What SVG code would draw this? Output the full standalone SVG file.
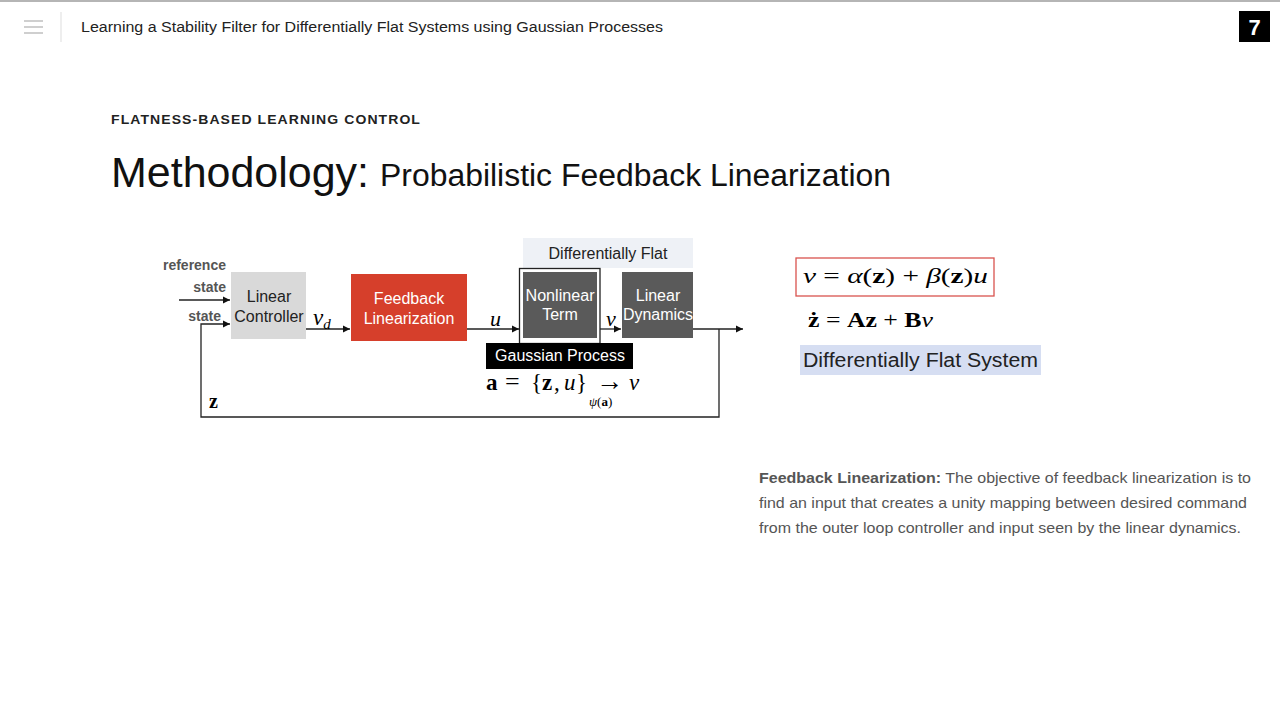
<svg xmlns="http://www.w3.org/2000/svg" width="1280" height="720" viewBox="0 0 1280 720">
<defs>
<marker id="ah" markerWidth="8" markerHeight="8" refX="7" refY="4" orient="auto" markerUnits="userSpaceOnUse">
<path d="M0,0.5 L7,4 L0,7.5 Z" fill="#111"/>
</marker>
<style>
.sans{font-family:"Liberation Sans",Arial,Helvetica,sans-serif}
.math{font-family:"Liberation Serif","Times New Roman",serif}
.lbl{font-family:"Liberation Sans",Arial,sans-serif;font-size:14px;font-weight:bold;fill:#555}
.wt{font-family:"Liberation Sans",Arial,sans-serif;font-size:16px;fill:#fff;text-anchor:middle}
.bt{font-family:"Liberation Sans",Arial,sans-serif;font-size:16px;fill:#222;text-anchor:middle}
.wire{fill:none;stroke:#222;stroke-width:1.3}
.i{font-style:italic}
.b{font-weight:bold}
</style>
</defs>
<rect width="1280" height="720" fill="#fff"/>
<!-- header -->
<line x1="0" y1="1" x2="1280" y2="1" stroke="#b5b5b5" stroke-width="2"/>
<g stroke="#cfcfcf" stroke-width="2">
<line x1="24" y1="21" x2="43" y2="21"/>
<line x1="24" y1="27" x2="43" y2="27"/>
<line x1="24" y1="33" x2="43" y2="33"/>
</g>
<line x1="61" y1="12" x2="61" y2="42" stroke="#ddd" stroke-width="1"/>
<text x="81" y="32" class="sans" font-size="15.5" fill="#222" textLength="582" lengthAdjust="spacingAndGlyphs">Learning a Stability Filter for Differentially Flat Systems using Gaussian Processes</text>
<rect x="1239" y="11" width="31" height="31" fill="#000"/>
<text x="1254.5" y="35" class="sans" font-size="22" font-weight="bold" fill="#fff" text-anchor="middle">7</text>
<!-- titles -->
<text x="111" y="124" class="sans" font-size="13" font-weight="bold" fill="#222" letter-spacing="1" textLength="310" lengthAdjust="spacingAndGlyphs">FLATNESS-BASED LEARNING CONTROL</text>
<text x="111" y="187" class="sans" font-size="43" fill="#111" textLength="258" lengthAdjust="spacingAndGlyphs">Methodology:</text>
<text x="380" y="186" class="sans" font-size="31" fill="#111" textLength="511" lengthAdjust="spacingAndGlyphs">Probabilistic Feedback Linearization</text>

<!-- connectors -->
<g id="connectors">
<line class="wire" x1="179" y1="300" x2="230" y2="300" marker-end="url(#ah)"/>
<polyline class="wire" points="719,329 719,417 201,417 201,324 230,324" marker-end="url(#ah)"/>
<line class="wire" x1="306" y1="329" x2="350" y2="329" marker-end="url(#ah)"/>
<line class="wire" x1="467" y1="329" x2="519" y2="329" marker-end="url(#ah)"/>
<line class="wire" x1="600" y1="329" x2="621" y2="329" marker-end="url(#ah)"/>
<line class="wire" x1="693" y1="329" x2="743" y2="329" marker-end="url(#ah)"/>
</g>

<!-- labels on diagram -->
<g id="signal-labels">
<text x="226" y="270" class="lbl" text-anchor="end">reference</text>
<text x="226" y="292" class="lbl" text-anchor="end">state</text>
<text x="221" y="321" class="lbl" text-anchor="end">state</text>
<text x="313" y="325" class="math" font-size="23"><tspan class="i">v</tspan><tspan class="i" font-size="15" dy="4">d</tspan></text>
<text x="490" y="326" class="math i" font-size="22">u</text>
<text x="606" y="326" class="math i" font-size="22">v</text>
<text x="209" y="408" class="math b" font-size="20">z</text>
</g>

<g id="linear-controller">
<rect x="231" y="272" width="75" height="67" fill="#d9d9d9"/>
<text x="269" y="302" class="bt">Linear</text>
<text x="269" y="322" class="bt">Controller</text>
</g>

<g id="feedback-linearization">
<rect x="351" y="274" width="116" height="67" fill="#d63f2b"/>
<text x="409" y="304" class="wt">Feedback</text>
<text x="409" y="324" class="wt">Linearization</text>
</g>

<g id="differentially-flat">
<rect x="523" y="238" width="170" height="30" fill="#eef1f6"/>
<text x="608" y="259" class="bt" font-size="15.5">Differentially Flat</text>
</g>

<g id="nonlinear-term">
<rect x="519.5" y="268.5" width="80.5" height="75" fill="#fff" stroke="#222" stroke-width="1.3"/>
<rect x="523" y="272" width="74" height="66" fill="#5a5a5a"/>
<text x="560" y="301" class="wt" textLength="69" lengthAdjust="spacingAndGlyphs">Nonlinear</text>
<text x="560" y="320" class="wt">Term</text>
</g>

<g id="linear-dynamics">
<rect x="622" y="272" width="71" height="66" fill="#5a5a5a"/>
<text x="658" y="301" class="wt">Linear</text>
<text x="658" y="320" class="wt" textLength="70" lengthAdjust="spacingAndGlyphs">Dynamics</text>
</g>

<g id="gaussian-process">
<rect x="486" y="343" width="147" height="26" fill="#000"/>
<text x="560" y="361" class="wt">Gaussian Process</text>
<text y="390" class="math" font-size="23"><tspan x="486" class="b">a</tspan><tspan x="505" font-size="26">=</tspan><tspan x="531">{</tspan><tspan x="542" class="b">z</tspan><tspan x="554">,</tspan><tspan x="564" class="i">u</tspan><tspan x="576">}</tspan><tspan x="596" font-size="27">→</tspan><tspan x="629" class="i">v</tspan></text>
<text x="589" y="406" class="math" font-size="13"><tspan class="i">ψ</tspan>(<tspan class="b">a</tspan>)</text>
</g>

<!-- right equations -->
<g id="equations">
<rect x="796" y="258" width="198" height="38" fill="#fff" stroke="#d9534f" stroke-width="1.3"/>
<text x="803" y="283" class="math" font-size="21" textLength="185" lengthAdjust="spacingAndGlyphs"><tspan class="i">v</tspan> = <tspan class="i">α</tspan>(<tspan class="b">z</tspan>) + <tspan class="i">β</tspan>(<tspan class="b">z</tspan>)<tspan class="i">u</tspan></text>
<text x="808" y="327" class="math" font-size="20" textLength="125" lengthAdjust="spacingAndGlyphs"><tspan class="b">ż</tspan> = <tspan class="b">Az</tspan> + <tspan class="b">B</tspan><tspan class="i">v</tspan></text>
<rect x="800" y="345" width="241" height="30" fill="#d6def2"/>
<text x="803" y="367" class="sans" font-size="20" fill="#222" textLength="235" lengthAdjust="spacingAndGlyphs">Differentially Flat System</text>
</g>

<g id="description" class="sans" font-size="15" fill="#555">
<text x="759" y="483" textLength="492" lengthAdjust="spacingAndGlyphs"><tspan font-weight="bold">Feedback Linearization:</tspan> The objective of feedback linearization is to</text>
<text x="759" y="508" textLength="488" lengthAdjust="spacingAndGlyphs">find an input that creates a unity mapping between desired command</text>
<text x="759" y="533" textLength="482" lengthAdjust="spacingAndGlyphs">from the outer loop controller and input seen by the linear dynamics.</text>
</g>
</svg>
